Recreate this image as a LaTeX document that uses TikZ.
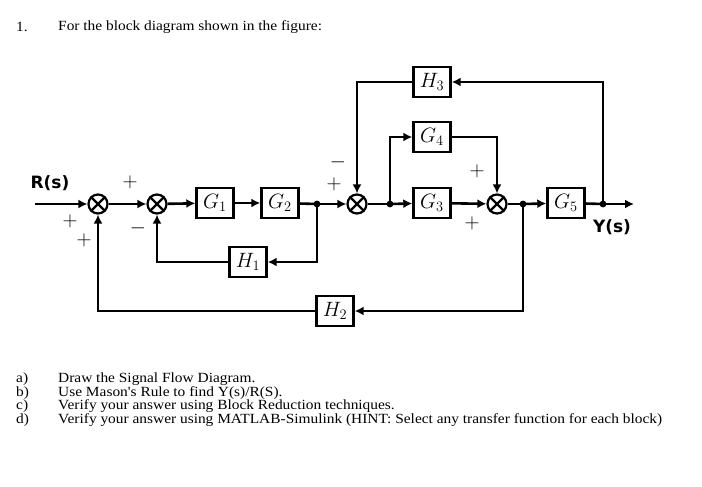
\documentclass[tikz,border=0pt]{standalone}
\usepackage{fontspec}
\setmainfont{Liberation Serif}
\newfontfamily\sansf{DejaVu Sans}
\newfontfamily\txtf{Liberation Serif}[FakeStretch=1.1]
\usetikzlibrary{calc,arrows.meta}
\begin{document}
\begin{tikzpicture}[x=1pt,y=-1pt,
	blk/.style={draw,line width=2.4pt,minimum width=37pt,minimum height=30pt,inner sep=0pt,font=\fontsize{21}{21}\selectfont},
	sum/.style={draw,circle,line width=2.2pt,minimum size=19pt,inner sep=0pt},
	sig/.style={line width=2.6pt,-{Latex[length=9pt,width=9pt]}},
	ln/.style={line width=2.6pt},
	dot/.style={circle,fill,inner sep=2.4pt},
	sgn/.style={font=\fontsize{22}{22}\selectfont},
	txt/.style={anchor=west,inner sep=0pt,font=\txtf\fontsize{14}{14}\selectfont}]
\useasboundingbox (0,0) rectangle (702,487);
%text
\node[txt] (num) at (16,27) {1.};
\node[txt] (task) at (58,27) {For the block diagram shown in the figure:};
\foreach \l/\t [count=\k] in {a)/{Draw the Signal Flow Diagram.},b)/{Use Mason's Rule to find Y(s)/R(S).},c)/{Verify your answer using Block Reduction techniques.},d)/{Verify your answer using MATLAB-Simulink (HINT: Select any transfer function for each block)}}{
	\node[txt] (l\k) at (16,{366+13.5*\k}) {\l};
	\node[txt] (t\k) at (58,{366+13.5*\k}) {\t};
}
%summing points
\foreach \n/\x in {s1/98,s2/157,s3/357,s4/497}{
	\node[sum] (\n) at (\x,204) {};
	\draw[line width=2.2pt] (\n.45) -- (\n.225) (\n.135) -- (\n.315);
}
%blocks
\node[blk] (G1) at (215,203) {$G_1$};
\node[blk] (G2) at (280,203) {$G_2$};
\node[blk] (G3) at (432,203) {$G_3$};
\node[blk] (G4) at (432,137) {$G_4$};
\node[blk] (G5) at (566,203) {$G_5$};
\node[blk] (H1) at (248,262) {$H_1$};
\node[blk] (H2) at (335,311) {$H_2$};
\node[blk] (H3) at (432,82) {$H_3$};
%branch points
\node[dot] (b1) at (317,204) {};
\node[dot] (b2) at (390,204) {};
\node[dot] (b3) at (523,204) {};
\node[dot] (b4) at (603,204) {};
\coordinate (in) at (35,204);
\coordinate (out) at (634,204);
%forward path
\draw[sig] (in) -- (s1);
\draw[sig] (s1) -- (s2);
\draw[sig] (s2) -- (G1);
\draw[sig] (G1) -- (G2);
\draw[ln] (G2) -- (b1.center);
\draw[sig] (b1.center) -- (s3);
\draw[ln] (s3) -- (b2.center);
\draw[sig] (b2.center) -- (G3);
\draw[sig] (G3) -- (s4);
\draw[ln] (s4) -- (b3.center);
\draw[sig] (b3.center) -- (G5);
\draw[ln] (G5) -- (b4.center);
\draw[sig] (b4.center) -- (out);
%parallel and feedback
\draw[sig] (b2.center) |- (G4);
\draw[sig] (G4) -| (s4);
\draw[sig] (b1.center) |- (H1);
\draw[sig] (H1) -| (s2);
\draw[sig] (b3.center) |- (H2);
\draw[sig] (H2) -| (s1);
\draw[sig] (b4.center) |- (H3);
\draw[sig] (H3) -| (s3);
%labels
\node[font=\sansf\bfseries\fontsize{17}{17}\selectfont] (R) at (50,183) {R(s)};
\node[font=\sansf\bfseries\fontsize{17}{17}\selectfont] (Y) at (612,227) {Y(s)};
\node[sgn] (p1) at (70,221) {$+$};
\node[sgn] (p2) at (84,240) {$+$};
\node[sgn] (p3) at (130,182) {$+$};
\node[sgn] (m1) at (138,228) {$-$};
\node[sgn] (p4) at (334,184) {$+$};
\node[sgn] (m2) at (338,162) {$-$};
\node[sgn] (p5) at (477,171) {$+$};
\node[sgn] (p6) at (472,223) {$+$};
\end{tikzpicture}
\end{document}
